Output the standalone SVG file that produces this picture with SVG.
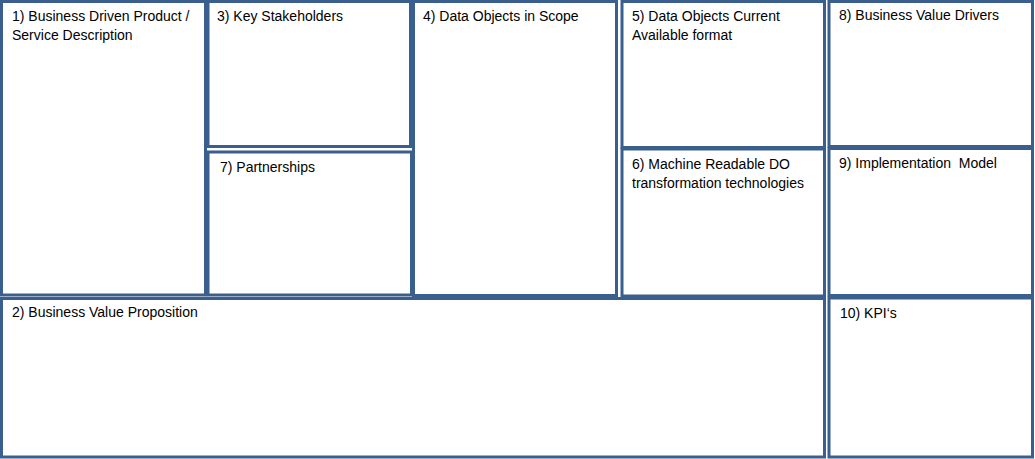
<svg xmlns="http://www.w3.org/2000/svg" width="1035" height="459" viewBox="0 0 1035 459">
<style>
.box{fill:#ffffff;stroke:#3a5f8e;stroke-width:3}
.t{font-family:"Liberation Sans",Arial,sans-serif;font-size:14px;fill:#000000}
</style>
<rect width="1035" height="459" fill="#ffffff"/>
<g id="node1"><rect class="box" x="1.5" y="1.5" width="204" height="293.5"/>
<text class="t" x="12" y="21">1) Business Driven Product /</text>
<text class="t" x="12" y="40">Service Description</text></g>
<g id="node3"><rect class="box" x="208" y="1.5" width="202.5" height="145"/>
<text class="t" x="217" y="21">3) Key Stakeholders</text></g>
<g id="node7"><rect class="box" x="208" y="152" width="203.5" height="143"/>
<text class="t" x="220" y="172">7) Partnerships</text></g>
<g id="node4"><rect class="box" x="413.5" y="1.5" width="203" height="294"/>
<text class="t" x="423" y="21">4) Data Objects in Scope</text></g>
<g id="node5"><rect class="box" x="622" y="1.5" width="202.5" height="146"/>
<text class="t" x="632" y="21">5) Data Objects Current</text>
<text class="t" x="632" y="40">Available format</text></g>
<g id="node6"><rect class="box" x="622" y="149" width="202.5" height="147"/>
<text class="t" x="632" y="169">6) Machine Readable DO</text>
<text class="t" x="632" y="188">transformation technologies</text></g>
<g id="node8"><rect class="box" x="829" y="1.5" width="203.5" height="145"/>
<text class="t" x="839" y="20">8) Business Value Drivers</text></g>
<g id="node9"><rect class="box" x="829" y="148.5" width="203.5" height="147"/>
<text class="t" x="839" y="168" xml:space="preserve">9) Implementation  Model</text></g>
<g id="node2"><rect class="box" x="1.5" y="298.5" width="823" height="158.5"/>
<text class="t" x="12" y="317">2) Business Value Proposition</text></g>
<g id="node10"><rect class="box" x="829" y="298" width="203.5" height="159"/>
<text class="t" x="840" y="318">10) KPI‘s</text></g>
<g id="connectors"></g>
</svg>
